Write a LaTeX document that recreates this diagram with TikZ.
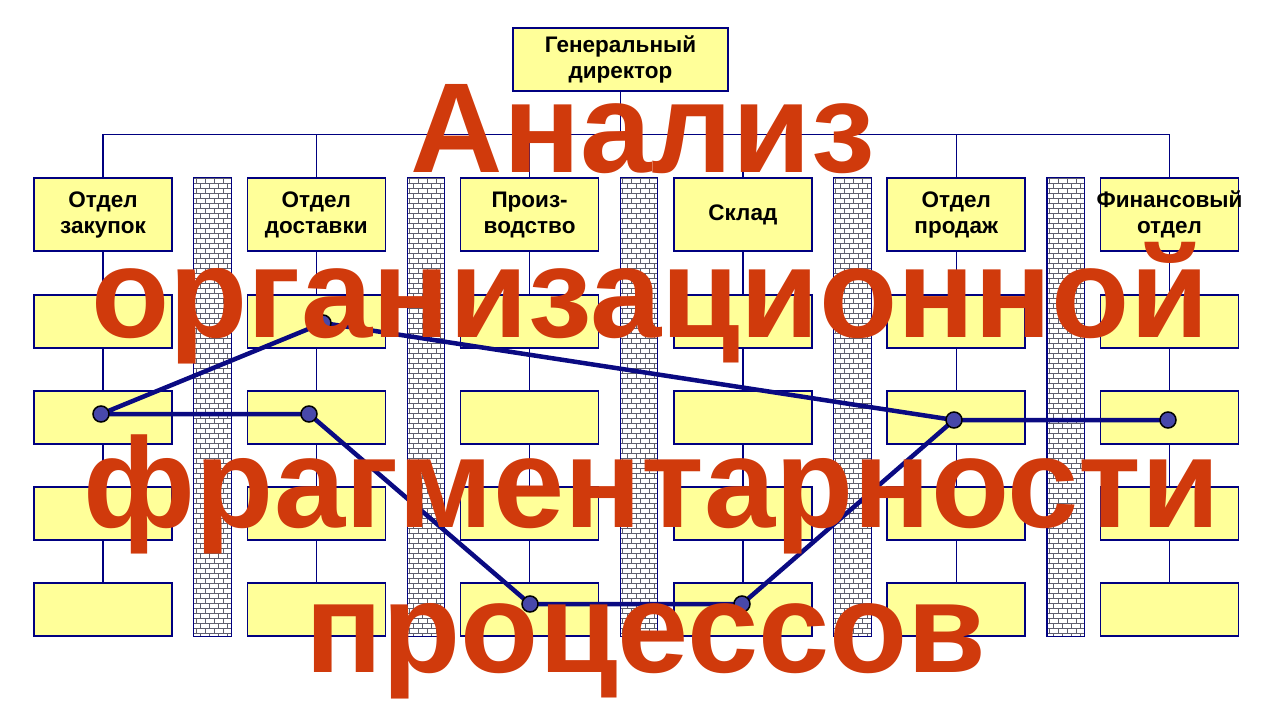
\documentclass[tikz,border=0pt]{standalone}
\usepackage{fontspec}
\setmainfont{Liberation Sans}

\definecolor{boxfill}{RGB}{255,255,153}
\definecolor{navyline}{RGB}{0,0,128}
\definecolor{procline}{RGB}{10,10,130}
\definecolor{dotfill}{RGB}{72,72,170}
\definecolor{brickgray}{RGB}{95,95,110}
\definecolor{titlered}{RGB}{208,58,12}

\begin{document}
\begin{tikzpicture}[x=1pt,y=-1pt,
  box/.style={draw=navyline,line width=1.5pt,fill=boxfill,inner sep=0pt,align=center,font=\bfseries\fontsize{22.5}{26}\selectfont},
  dept/.style={box,minimum width=138pt,minimum height=73pt},
  cell/.style={box,minimum width=138pt,minimum height=53pt},
  wire/.style={navyline,line width=1.3pt},
  wall/.style={fill=white,minimum width=37pt,minimum height=458pt,inner sep=0pt},
  mortar/.style={brickgray,line width=0.9pt},
  proc/.style={procline,line width=4.5pt,line join=round},
  pdot/.style={circle,draw=black,line width=1.5pt,fill=dotfill,minimum size=16pt,inner sep=0pt},
  title/.style={text=titlered,font=\bfseries\fontsize{128}{128}\selectfont,anchor=base,inner sep=0pt}]

\useasboundingbox (0,0) rectangle (1280,720);

\node[box,minimum width=215pt,minimum height=63pt] (dir) at (620.5,59.5) {Генеральный\\директор};
\draw[wire] (dir.south) -- ++(0,43) coordinate (bus);

\foreach \i/\txt in {1/{Отдел\\закупок},2/{Отдел\\доставки},3/{Произ-\\водство},4/{Склад},5/{Отдел\\продаж},6/{\makebox[0pt]{Финансовый}\\отдел}}{
  \node[dept] (d\i) at ({103+213.3*(\i-1)},214.5) {\txt};
  \draw[wire] (d\i.north) |- (bus);
  \foreach \j in {1,...,4}
    \node[cell] (b\i\j) at ({103+213.3*(\i-1)},{321.5+96*(\j-1)}) {};
  \draw[wire] (d\i.south) -- (b\i1.north);
  \draw[wire] (b\i1.south) -- (b\i2.north);
  \draw[wire] (b\i2.south) -- (b\i3.north);
  \draw[wire] (b\i3.south) -- (b\i4.north);
}

% brick walls between the departments
\foreach \i in {1,...,5}{
  \node[wall] (w\i) at ({212.5+213.3*(\i-1)},407) {};
  \begin{scope}
    \clip (w\i.north west) rectangle (w\i.south east);
    \foreach \r in {0,...,91}{
      \pgfmathsetmacro\yy{178+5*\r}
      \pgfmathsetmacro\xx{194+213.3*(\i-1)+2+4.5*mod(\r,2)}
      \draw[mortar] (w\i.west |- 0,\yy) -- ++(37,0)
        \foreach \k in {0,...,4} {(\xx+9*\k,\yy) -- ++(0,5)};
    }
  \end{scope}
  \draw[navyline,line width=1.2pt] (w\i.north west) rectangle (w\i.south east);
}

% the process across the departments
\coordinate (p1) at (101,414);
\coordinate (p2) at (309,414);
\coordinate (p3) at (323,323);
\coordinate (p4) at (530,604);
\coordinate (p5) at (742,604);
\coordinate (p6) at (954,420);
\coordinate (p7) at (1168,420);
\draw[proc] (p3) -- (p1) -- (p2) -- (p4) -- (p5) -- (p6) -- (p7);
\draw[proc] (p3) -- (p6);
\foreach \k in {1,...,7}
  \node[pdot] at (p\k) {};

\node[title] (t1) at (643,172) {Анализ};
\node[title] (t2) at (650,337) {организационной};
\node[title] (t3) at (652,527) {фрагментарности};
\node[title] (t4) at (646,672) {процессов};
\end{tikzpicture}
\end{document}
